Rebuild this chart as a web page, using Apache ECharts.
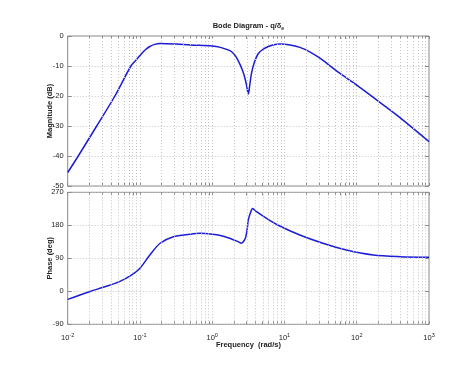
<!DOCTYPE html>
<html>
<head>
<meta charset="utf-8">
<script src="https://cdn.jsdelivr.net/npm/echarts@6/dist/echarts.min.js"></script>
<style>html,body{margin:0;padding:0;background:#fff}#c{width:474px;height:365px}</style>
</head>
<body>
<div id="c"></div>
<script>
// Frequency (rad/s) and magnitude (dB)
const magFreq = [0.01, 0.014, 0.0252, 0.045, 0.075, 0.09, 0.105, 0.12, 0.137, 0.16, 0.19, 0.32, 0.5, 1.0, 1.3, 1.76, 2.0, 2.24, 2.63, 2.9, 3.1, 3.17, 3.3, 3.5, 3.8, 4.3, 5.0, 6.0, 8.6, 12, 16.3, 22, 31, 44, 58, 99, 188, 355, 1000];
const magDb = [-45.5, -40, -30, -20, -10, -7.8, -5.9, -4.5, -3.5, -2.8, -2.5, -2.7, -3.0, -3.3, -3.8, -4.9, -6.0, -7.8, -11.5, -15, -18.5, -19.3, -16.5, -12.4, -9, -6, -4.5, -3.5, -2.7, -3.0, -3.8, -5.2, -7.4, -10.2, -12.4, -16.3, -21.3, -26.3, -35.2];
// Frequency (rad/s) and phase (deg)
const phFreq = [0.01, 0.02, 0.031, 0.053, 0.077, 0.1, 0.137, 0.19, 0.29, 0.49, 0.68, 1.0, 1.3, 1.78, 2.24, 2.55, 2.8, 2.92, 3.05, 3.15, 3.39, 3.62, 4.1, 5.65, 8.6, 16.3, 34, 72, 169, 394, 1000];
const phDeg = [-22, -1, 11, 27, 44.5, 63, 99, 131, 149, 155.5, 158, 155.5, 152, 144, 136, 131, 140, 149, 170, 194, 215, 226, 217, 199, 178, 153.5, 131, 112.6, 99, 94.4, 92.8];
// Axis ticks
const decades = [-2, -1, 0, 1, 2, 3];
const magTicks = [0, -10, -20, -30, -40, -50];
const phTicks = [270, 180, 90, 0, -90];

const logGrid = [];
decades.forEach(d => {
  if (d === 3) { logGrid.push(3); return; }
  for (let k = 1; k <= 9; k++) logGrid.push(Math.log10(k * Math.pow(10, d)));
});

const FONT = 'Liberation Sans, Arial, sans-serif';
const frameColor = '#8a8a8a';
const gridColor = '#c4c4c4';
const lineColor = '#1c1cd6';
const txt = '#222';

const L = 67.7, R = 474 - 429;
const grids = [
  { left: L, right: R, top: 36, height: 150, show: true, borderColor: frameColor, borderWidth: 1 },
  { left: L, right: R, top: 192.3, height: 132, show: true, borderColor: frameColor, borderWidth: 1 }
];

function xAx(gi, pos, labels) {
  return {
    type: 'value', gridIndex: gi, position: pos, min: -2, max: 3, interval: 1,
    axisLine: { show: false, onZero: false },
    axisTick: { show: true, inside: true, length: 3, customValues: logGrid, lineStyle: { color: frameColor } },
    splitLine: { show: false },
    axisLabel: labels ? {
      show: true, margin: 8, color: txt, fontFamily: FONT,
      customValues: decades,
      formatter: v => '{b|10}{s|' + Math.round(v) + '}',
      rich: { b: { fontSize: 7.5, fontFamily: FONT, color: txt }, s: { fontSize: 5.5, fontFamily: FONT, color: txt, padding: [0, 0, 6, 0] } }
    } : { show: false }
  };
}
function yAx(gi, pos, ticks, name) {
  const main = pos === 'left';
  const mn = Math.min(...ticks), mx = Math.max(...ticks);
  return {
    type: 'value', gridIndex: gi, position: pos, min: mn, max: mx, interval: (mx - mn) / (ticks.length - 1),
    name: main ? name : '', nameLocation: 'middle', nameGap: 14, nameRotate: 90, nameMoveOverlap: false,
    nameTextStyle: { fontFamily: FONT, fontSize: 7.5, fontWeight: 'bold', color: txt },
    axisLine: { show: false, onZero: false },
    axisTick: { show: true, inside: true, length: 4, lineStyle: { color: frameColor } },
    splitLine: main ? { show: true, lineStyle: { color: gridColor, type: [1, 2], width: 1 } } : { show: false },
    axisLabel: main ? { show: true, margin: 4, fontSize: 7.5, fontFamily: FONT, color: txt } : { show: false }
  };
}

const vLines = {
  silent: true, symbol: 'none', label: { show: false },
  lineStyle: { color: gridColor, type: [1, 2], width: 1 },
  emphasis: { disabled: true },
  data: logGrid.filter(v => v > -2 && v < 3).map(v => ({ xAxis: v }))
};

const option = {
  animation: false,
  grid: grids,
  xAxis: [xAx(0, 'bottom', false), xAx(0, 'top', false), xAx(1, 'bottom', true), xAx(1, 'top', false)],
  yAxis: [yAx(0, 'left', magTicks, 'Magnitude (dB)'), yAx(0, 'right', magTicks),
          yAx(1, 'left', phTicks, 'Phase (deg)'), yAx(1, 'right', phTicks)],
  series: [
    {
      type: 'line', xAxisIndex: 0, yAxisIndex: 0, showSymbol: false, smooth: 0.3,
      lineStyle: { color: lineColor, width: 1.5 }, z: 3,
      data: magFreq.map((f, i) => [Math.log10(f), magDb[i]]),
      markLine: vLines
    },
    {
      type: 'line', xAxisIndex: 2, yAxisIndex: 2, showSymbol: false, smooth: 0.3,
      lineStyle: { color: lineColor, width: 1.5 }, z: 3,
      data: phFreq.map((f, i) => [Math.log10(f), phDeg[i]]),
      markLine: vLines
    }
  ],
  graphic: [
    { type: 'text', x: 248.4, y: 26, style: { text: '{a|Bode Diagram - q/δ}{s|e}', align: 'center', verticalAlign: 'middle',
      rich: { a: { fontSize: 7.5, fontWeight: 'bold', fontFamily: FONT, fill: txt }, s: { fontSize: 5, fontWeight: 'bold', fontFamily: FONT, fill: txt, padding: [5, 0, 0, 0] } } } },
    { type: 'text', x: 248.4, y: 345, style: { text: 'Frequency  (rad/s)', align: 'center', verticalAlign: 'middle',
      fontSize: 7.5, fontWeight: 'bold', fontFamily: FONT, fill: txt } }
  ]
};

echarts.init(document.getElementById('c'), null, { renderer: 'canvas' }).setOption(option);
</script>
</body>
</html>
